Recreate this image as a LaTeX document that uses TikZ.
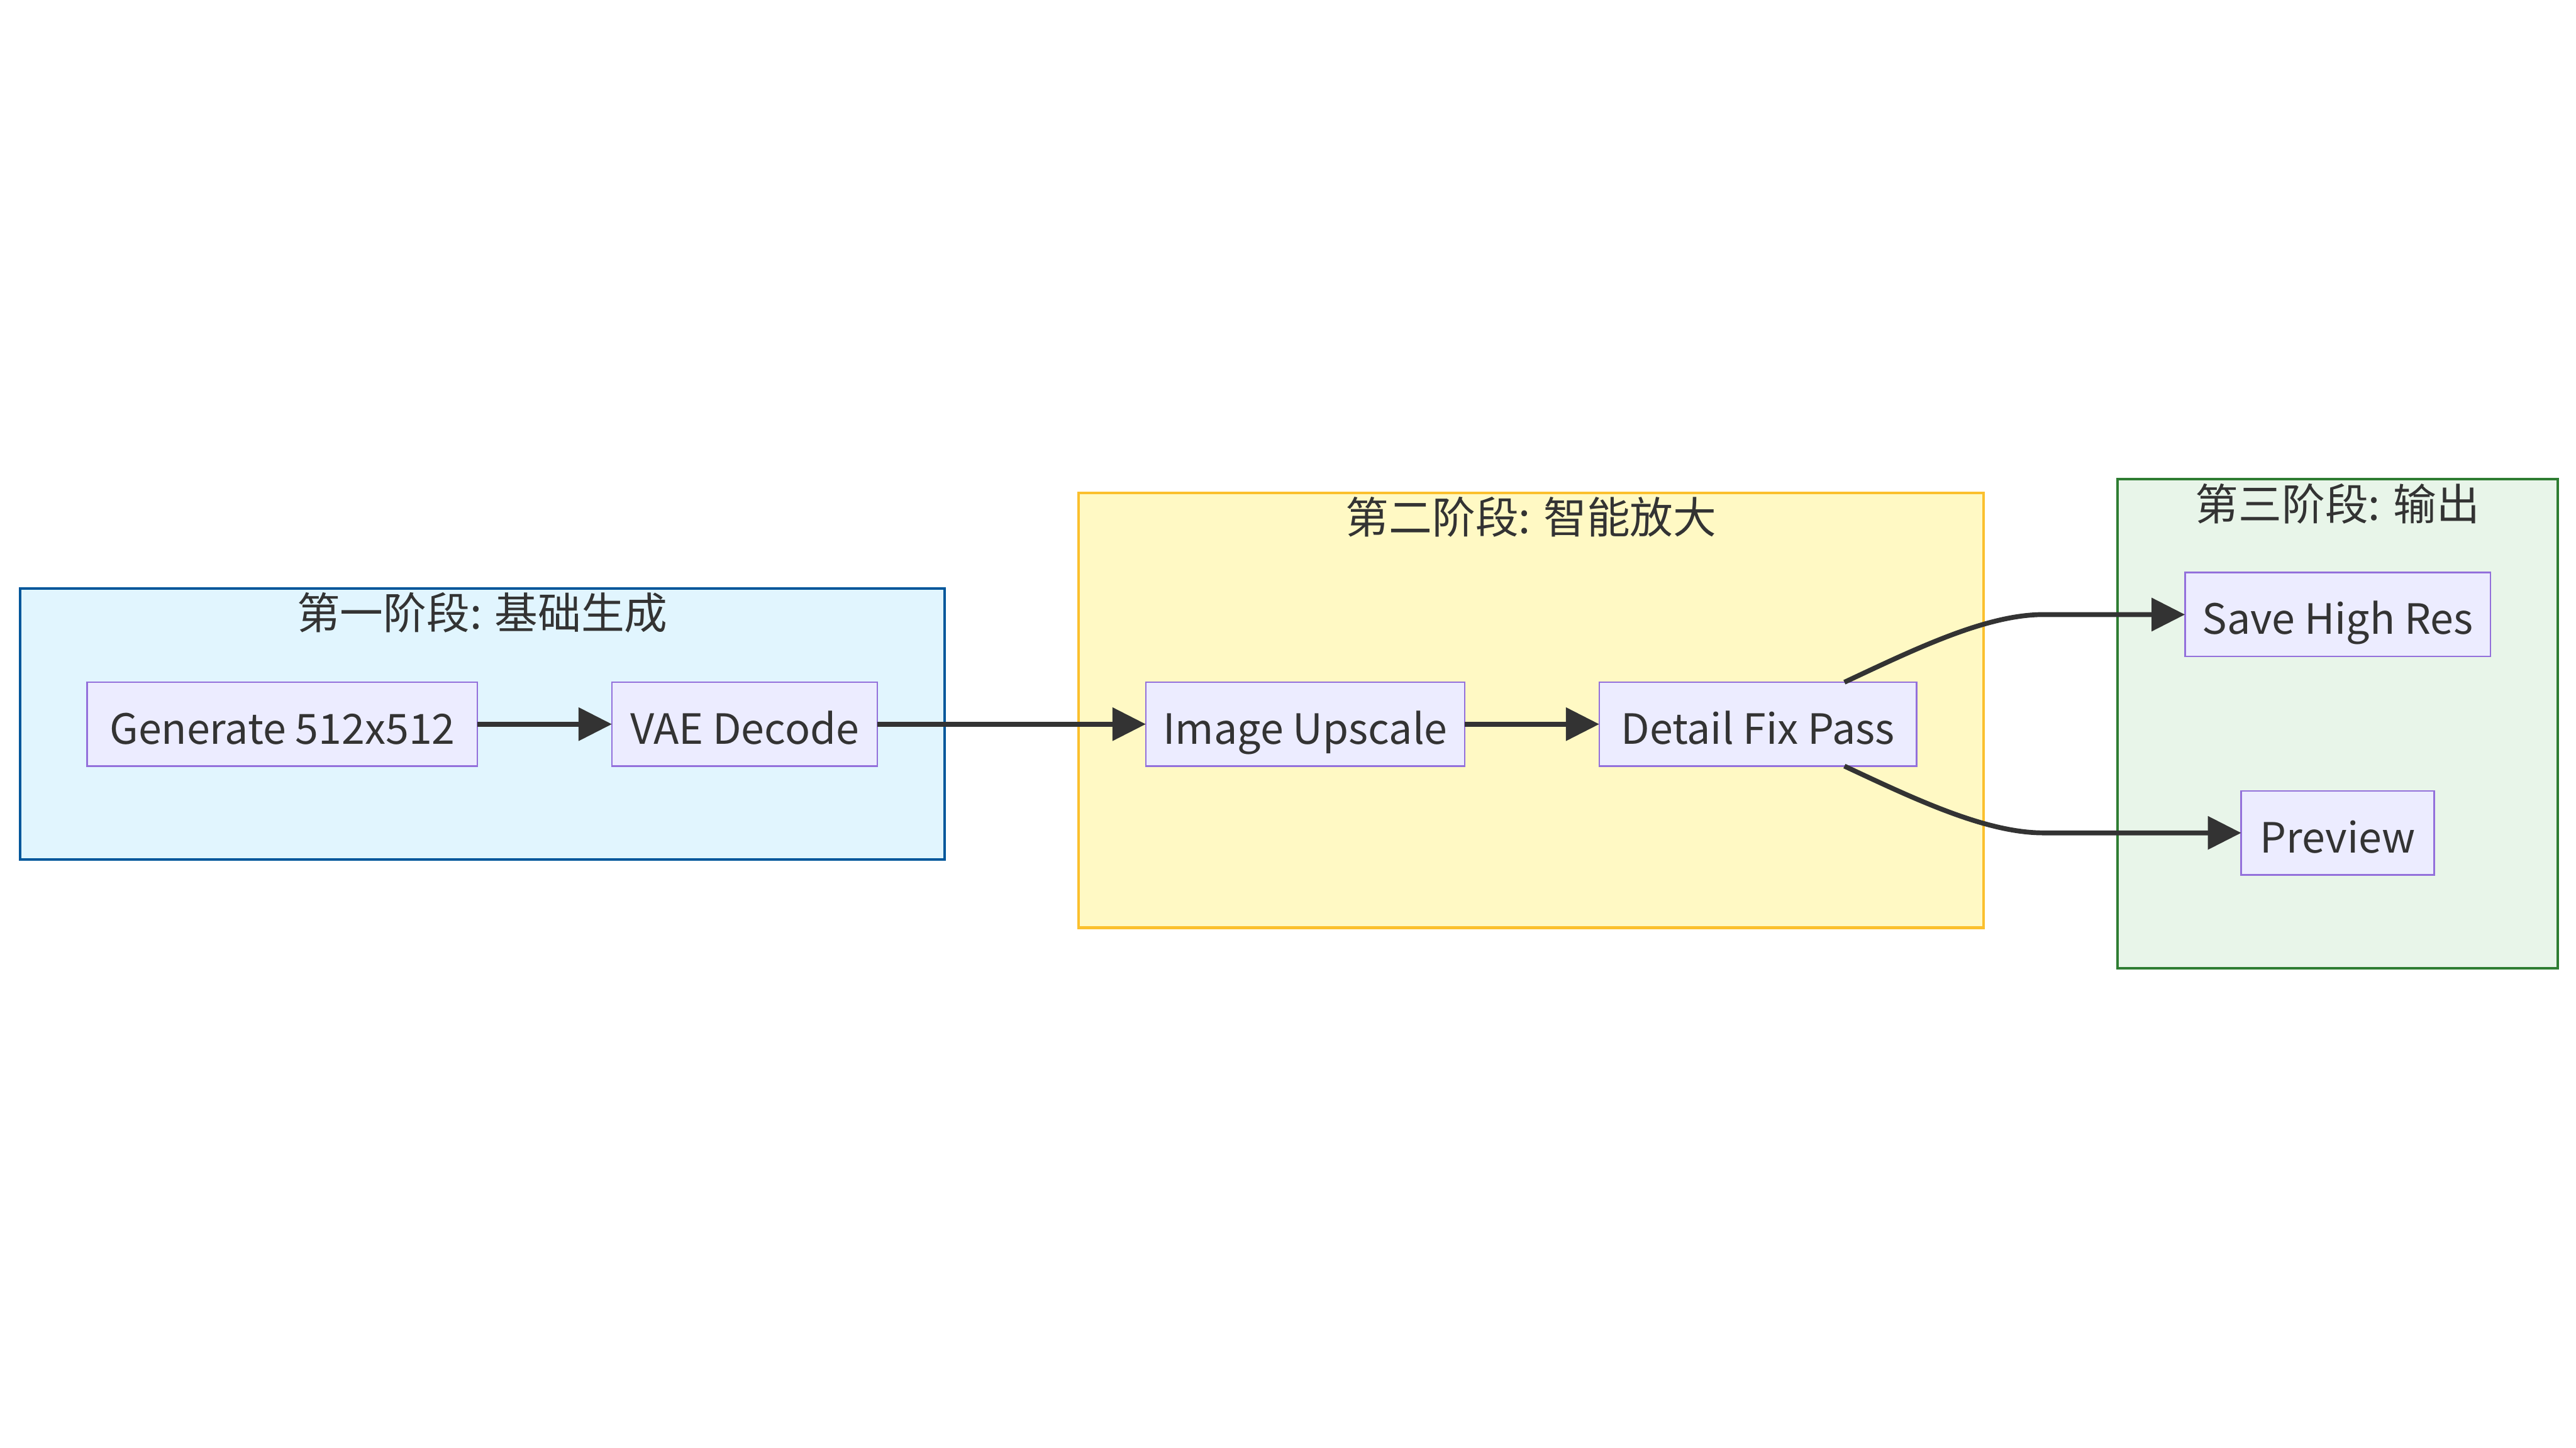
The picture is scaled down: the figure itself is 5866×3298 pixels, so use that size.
\documentclass[tikz,border=0pt]{standalone}
\usepackage{fontspec}
\setmainfont{Noto Sans CJK SC}
\usetikzlibrary{positioning,arrows.meta,fit,backgrounds}
\definecolor{ink}{HTML}{333333}
\definecolor{nodefill}{HTML}{ECECFF}
\definecolor{nodeline}{HTML}{9370DB}
\definecolor{oneback}{HTML}{E1F5FE}
\definecolor{oneline}{HTML}{01579B}
\definecolor{twoback}{HTML}{FFF9C4}
\definecolor{twoline}{HTML}{FBC02D}
\definecolor{threeback}{HTML}{E8F5E9}
\definecolor{threeline}{HTML}{2E7D32}

\begin{document}
\begin{tikzpicture}[x=0.01cm, y=0.01cm, font=\fontsize{28pt}{34pt}\selectfont, text=ink, node distance=3.06cm,
        proc/.style={draw=nodeline, fill=nodefill, line width=0.037cm, minimum height=1.91cm, inner sep=0pt, outer sep=0pt,
          font=\fontsize{27pt}{33pt}\selectfont, text height=0.9cm, text depth=0pt},
        stage/.style={line width=0.06cm, inner xsep=1.53cm, inner ysep=2.13cm, outer sep=0pt},
        flow/.style={draw=ink, line width=0.11cm, -{Triangle[length=0.76cm, width=0.74cm]}}]
        \useasboundingbox (0,0) rectangle (5866,3298);
        \node[proc, minimum width=8.88cm] (gen) at (643,1648.5) {Generate 512x512};
        \node[proc, minimum width=6.04cm, right=of gen] (vae) {VAE Decode};
        \node[proc, minimum width=7.26cm, right=6.11cm of vae] (upscale) {Image Upscale};
        \node[proc, minimum width=7.22cm, right=of upscale] (detail) {Detail Fix Pass};
        \node[proc, minimum width=6.95cm, right=6.11cm of detail, yshift=2.495cm] (save) {Save High Res};
        \node[proc, minimum width=4.39cm, below=of save] (preview) {Preview};
        % stage frames
        \begin{scope}[on background layer]
          \node[stage, draw=oneline, fill=oneback, fit=(gen)(vae)] (stage1) {};
          \node[stage, draw=twoline, fill=twoback, fit=(upscale)(detail), inner ysep=3.995cm, yshift=0.315cm] (stage2) {};
          \node[stage, draw=threeline, fill=threeback, fit=(save)(preview)] (stage3) {};
        \end{scope}
        \node (title1) at ([yshift=-0.55cm]stage1.north) {第一阶段: 基础生成};
        \node (title2) at ([yshift=-0.55cm]stage2.north) {第二阶段: 智能放大};
        \node (title3) at ([yshift=-0.56cm]stage3.north) {第三阶段: 输出};
        \draw[flow] (gen) -- (vae);
        \draw[flow] (vae) -- (upscale);
        \draw[flow] (upscale) -- (detail);
        \draw[flow] ([xshift=1.97cm]detail.north) .. controls +(162,76) and +(-131,0) .. ([xshift=-3.22cm]save.west) -- (save.west);
        \draw[flow] ([xshift=1.97cm]detail.south) .. controls +(162,-76) and +(-131,0) .. ([xshift=-4.5cm]preview.west) -- (preview.west);
      \end{tikzpicture}
\end{document}
